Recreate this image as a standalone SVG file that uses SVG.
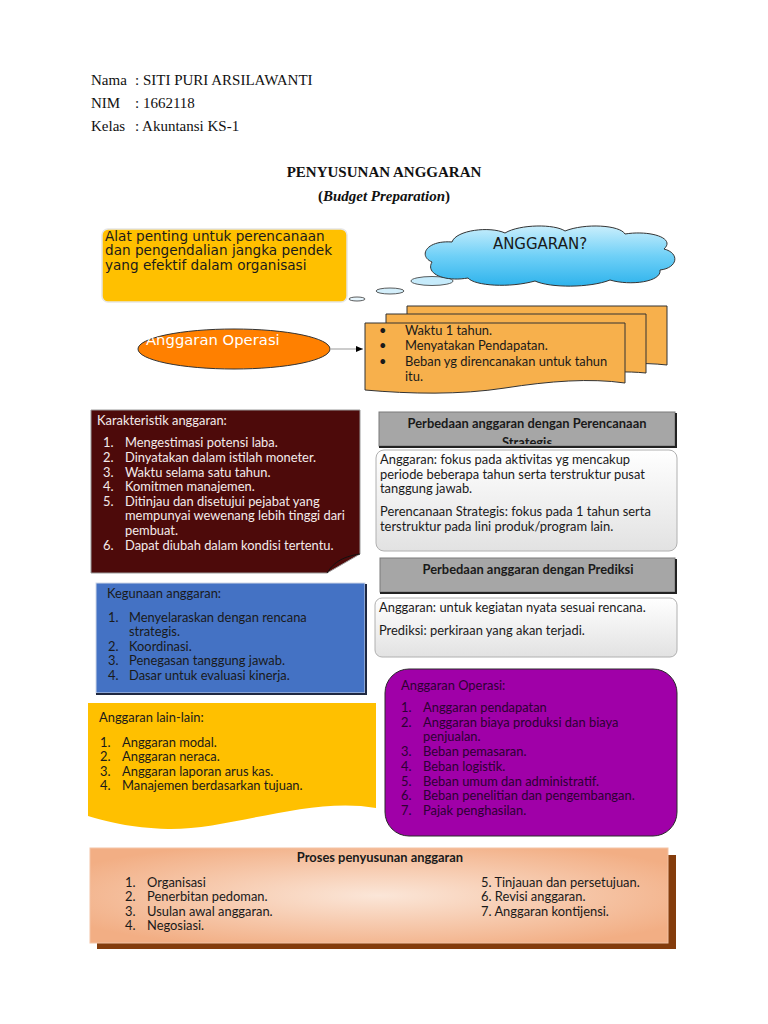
<svg xmlns="http://www.w3.org/2000/svg" width="768" height="1024" viewBox="0 0 768 1024">
<defs>
<style>
.serif{font-family:"Liberation Serif",serif;font-size:15px;fill:#111}
.dv{font-family:"DejaVu Sans",sans-serif}
.cb{font-family:Lato,"Open Sans",sans-serif;font-size:12.9px}
.w{fill:#f4eaea}
.dk{fill:#1a1a1a}
.pu{fill:#2d0033}
.b{font-weight:bold}
.hdr{fill:#a6a6a6;stroke:#7a7a7a;stroke-width:1}
.wb{fill:url(#gw);stroke:#b0b0b0;stroke-width:1}
</style>
<linearGradient id="gw" x1="0" y1="0" x2="0" y2="1"><stop offset="0" stop-color="#ffffff"/><stop offset="1" stop-color="#e2e2e2"/></linearGradient>
<linearGradient id="gc" x1="0" y1="0" x2="0" y2="1"><stop offset="0" stop-color="#c9eefc"/><stop offset="0.5" stop-color="#6fd0f7"/><stop offset="1" stop-color="#2eb3ec"/></linearGradient>
<radialGradient id="gp" cx="0.5" cy="0.5" r="0.6"><stop offset="0" stop-color="#fbe6d8"/><stop offset="1" stop-color="#f2ae84"/></radialGradient>
<marker id="ah" markerWidth="8" markerHeight="8" refX="7" refY="4" orient="auto" markerUnits="userSpaceOnUse"><path d="M0,1 L7,4 L0,7 Z" fill="#000"/></marker>
<clipPath id="c1"><rect x="380" y="413" width="295" height="31"/></clipPath>
</defs>
<rect width="768" height="1024" fill="#fff"/>

<g id="header">
<text class="serif" x="91" y="85">Nama</text><text class="serif" x="135" y="85">: SITI PURI ARSILAWANTI</text>
<text class="serif" x="91" y="108">NIM</text><text class="serif" x="135" y="108">: 1662118</text>
<text class="serif" x="91" y="131">Kelas</text><text class="serif" x="135" y="131">: Akuntansi KS-1</text>
<text class="serif b" x="384" y="177" text-anchor="middle">PENYUSUNAN ANGGARAN</text>
<text class="serif b" x="384" y="201" text-anchor="middle">(<tspan font-style="italic">Budget Preparation</tspan>)</text>
</g>

<g id="node-alat">
<rect x="102" y="229" width="245" height="73" rx="6" fill="#ffc000" stroke="#e6e6e6" stroke-width="1.5"/>
<text class="dv" font-size="13.6" fill="#1a1a1a"><tspan x="105" y="241">Alat penting untuk perencanaan</tspan><tspan x="105" y="255">dan pengendalian jangka pendek</tspan><tspan x="105" y="270">yang efektif dalam organisasi</tspan></text>
</g>

<g id="node-cloud">
<ellipse cx="357" cy="299" rx="8" ry="2" fill="#e8f6fd" stroke="#333" stroke-width="0.8"/>
<ellipse cx="390" cy="291" rx="14" ry="3" fill="#d4effb" stroke="#333" stroke-width="0.8"/>
<ellipse cx="432" cy="281" rx="21" ry="4.5" fill="#c6ebfb" stroke="#333" stroke-width="0.8"/>
<path d="M432,262 C418,256 426,240 452,242 C456,230 490,226 505,233 C520,224 555,224 565,231 C585,223 620,225 625,234 C650,230 676,238 664,249 C680,253 678,268 660,270 C662,282 630,286 610,280 C590,288 550,288 535,281 C510,288 475,286 468,278 C445,282 425,274 432,262 Z" fill="url(#gc)" stroke="#333" stroke-width="1"/>
<text class="dv" font-size="15" fill="#1a1a1a" x="540" y="249" text-anchor="middle">ANGGARAN?</text>
</g>

<g id="node-waktu">
<path d="M407,306 H667 V365 C640,362 620,364 600,368 H407 Z" fill="#f7b04c" stroke="#333" stroke-width="1"/>
<path d="M386,314 H646 V373 C625,371 612,372 600,375 H386 Z" fill="#f7b04c" stroke="#333" stroke-width="1"/>
<path d="M365,323 H625 V383 C590,378 550,381 505,388 C460,395 410,394 365,390 Z" fill="#f7b04c" stroke="#333" stroke-width="1"/>
<g class="cb dk">
<text x="379" y="335">•</text><text x="405" y="335">Waktu 1 tahun.</text>
<text x="379" y="350">•</text><text x="405" y="350">Menyatakan Pendapatan.</text>
<text x="379" y="366">•</text><text x="405" y="366">Beban yg direncanakan untuk tahun</text>
<text x="405" y="381">itu.</text>
</g>
</g>

<g id="node-operasi-ellipse">
<ellipse cx="234" cy="349" rx="96" ry="20" fill="#ff8000" stroke="#333" stroke-width="1"/>
<text class="dv" font-size="14.8" fill="#fff" x="146" y="345">Anggaran Operasi</text>
</g>

<g id="connectors">
<line x1="331" y1="349" x2="363" y2="349" stroke="#aaa" stroke-width="1.2" marker-end="url(#ah)"/>
</g>

<g id="node-karakteristik">
<path d="M91,410 H360 V554 L327,573 H91 Z" fill="#4d0a0a" stroke="#9a9a9a" stroke-width="1"/>
<path d="M327,573 C333,564 340,557 360,554" fill="none" stroke="#111" stroke-width="1"/>
<g class="cb w">
<text x="97" y="425">Karakteristik anggaran:</text>
<text x="103" y="447">1.</text><text x="125" y="447">Mengestimasi potensi laba.</text>
<text x="103" y="462">2.</text><text x="125" y="462">Dinyatakan dalam istilah moneter.</text>
<text x="103" y="477">3.</text><text x="125" y="477">Waktu selama satu tahun.</text>
<text x="103" y="491">4.</text><text x="125" y="491">Komitmen manajemen.</text>
<text x="103" y="506">5.</text><text x="125" y="506">Ditinjau dan disetujui pejabat yang</text>
<text x="125" y="520">mempunyai wewenang lebih tinggi dari</text>
<text x="125" y="535">pembuat.</text>
<text x="103" y="550">6.</text><text x="125" y="550">Dapat diubah dalam kondisi tertentu.</text>
</g>
</g>

<g id="node-perbedaan-strategis">
<rect x="379" y="412" width="296" height="34" class="hdr"/>
<path d="M676,413 V447 H379" fill="none" stroke="#222" stroke-width="2"/>
<g clip-path="url(#c1)">
<text class="cb b dk" x="527" y="428" text-anchor="middle">Perbedaan anggaran dengan Perencanaan</text>
<text class="cb b dk" x="527" y="447" text-anchor="middle">Strategis</text>
</g>
<rect x="376" y="450" width="301" height="101" rx="8" class="wb"/>
<g class="cb dk" font-size="13.3">
<text x="380" y="464">Anggaran: fokus pada aktivitas yg mencakup</text>
<text x="380" y="479">periode beberapa tahun serta terstruktur pusat</text>
<text x="380" y="493">tanggung jawab.</text>
<text x="380" y="516">Perencanaan Strategis: fokus pada 1 tahun serta</text>
<text x="380" y="531">terstruktur pada lini produk/program lain.</text>
</g>
</g>

<g id="node-perbedaan-prediksi">
<rect x="380" y="558" width="295" height="34" class="hdr"/>
<path d="M676,559 V593 H380" fill="none" stroke="#222" stroke-width="2"/>
<text class="cb b dk" x="528" y="574" text-anchor="middle">Perbedaan anggaran dengan Prediksi</text>
<rect x="375" y="598" width="302" height="59" rx="7" class="wb"/>
<g class="cb dk">
<text x="379" y="612">Anggaran: untuk kegiatan nyata sesuai rencana.</text>
<text x="379" y="635">Prediksi: perkiraan yang akan terjadi.</text>
</g>
</g>

<g id="node-kegunaan">
<rect x="96" y="583" width="269" height="110" fill="#4472c4" stroke="#d0d8e8" stroke-width="1"/>
<path d="M366,584 V694 H96" fill="none" stroke="#1f2840" stroke-width="2"/>
<g class="cb dk">
<text x="107" y="598">Kegunaan anggaran:</text>
<text x="108" y="622">1.</text><text x="129" y="622">Menyelaraskan dengan rencana</text>
<text x="129" y="636">strategis.</text>
<text x="108" y="651">2.</text><text x="129" y="651">Koordinasi.</text>
<text x="108" y="665">3.</text><text x="129" y="665">Penegasan tanggung jawab.</text>
<text x="108" y="680">4.</text><text x="129" y="680">Dasar untuk evaluasi kinerja.</text>
</g>
</g>

<g id="node-lain">
<path d="M88,703 H376 V808 C310,796 230,830 168,829 C130,828 105,821 88,816 Z" fill="#ffc000"/>
<g class="cb dk">
<text x="99" y="722">Anggaran lain-lain:</text>
<text x="100" y="747">1.</text><text x="122" y="747">Anggaran modal.</text>
<text x="100" y="761">2.</text><text x="122" y="761">Anggaran neraca.</text>
<text x="100" y="776">3.</text><text x="122" y="776">Anggaran laporan arus kas.</text>
<text x="100" y="790">4.</text><text x="122" y="790">Manajemen berdasarkan tujuan.</text>
</g>
</g>

<g id="node-anggaran-operasi">
<rect x="385" y="669" width="292" height="167" rx="24" fill="#a000a8" stroke="#2a2a2a" stroke-width="1"/>
<g class="cb pu">
<text x="401" y="690">Anggaran Operasi:</text>
<text x="401" y="712">1.</text><text x="423" y="712">Anggaran pendapatan</text>
<text x="401" y="727">2.</text><text x="423" y="727">Anggaran biaya produksi dan biaya</text>
<text x="423" y="741">penjualan.</text>
<text x="401" y="756">3.</text><text x="423" y="756">Beban pemasaran.</text>
<text x="401" y="771">4.</text><text x="423" y="771">Beban logistik.</text>
<text x="401" y="786">5.</text><text x="423" y="786">Beban umum dan administratif.</text>
<text x="401" y="800">6.</text><text x="423" y="800">Beban penelitian dan pengembangan.</text>
<text x="401" y="815">7.</text><text x="423" y="815">Pajak penghasilan.</text>
</g>
</g>

<g id="node-proses">
<rect x="97" y="855" width="579" height="94" fill="#843c0c"/>
<rect x="90" y="848" width="578" height="95" fill="url(#gp)" stroke="#f3c3a5" stroke-width="1"/>
<g class="cb dk">
<text class="b" x="380" y="862" text-anchor="middle">Proses penyusunan anggaran</text>
<text x="125" y="887">1.</text><text x="147" y="887">Organisasi</text>
<text x="125" y="901">2.</text><text x="147" y="901">Penerbitan pedoman.</text>
<text x="125" y="916">3.</text><text x="147" y="916">Usulan awal anggaran.</text>
<text x="125" y="930">4.</text><text x="147" y="930">Negosiasi.</text>
<text x="481" y="887">5. Tinjauan dan persetujuan.</text>
<text x="481" y="901">6. Revisi anggaran.</text>
<text x="481" y="916">7. Anggaran kontijensi.</text>
</g>
</g>
</svg>
